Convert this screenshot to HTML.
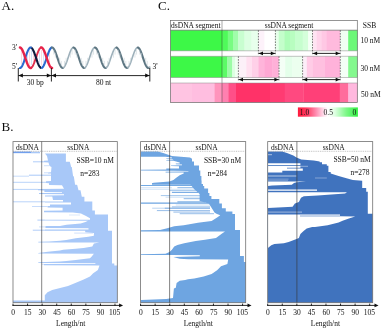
<!DOCTYPE html>
<html><head><meta charset="utf-8"><title>Figure</title>
<style>
html,body{margin:0;padding:0;background:#fff;}
svg{display:block;font-family:"Liberation Serif",serif;}
text{fill:#111;}
</style></head><body>
<svg width="381" height="329" viewBox="0 0 381 329">
<defs><filter id="soft" x="-2%" y="-2%" width="104%" height="104%"><feGaussianBlur stdDeviation="0.45"/></filter></defs>
<rect width="381" height="329" fill="#fff"/>
<g filter="url(#soft)">
<text x="1.60" y="9.90" font-size="13" text-anchor="start" >A.</text>
<text x="1.60" y="130.70" font-size="13" text-anchor="start" >B.</text>
<text x="158.00" y="9.90" font-size="13" text-anchor="start" >C.</text>
<line x1="21.50" y1="51.10" x2="21.50" y2="64.40" stroke="#f8c8d4" stroke-width="0.7"/>
<line x1="23.50" y1="55.17" x2="23.50" y2="60.33" stroke="#c4d6f6" stroke-width="0.7"/>
<line x1="27.50" y1="54.04" x2="27.50" y2="61.46" stroke="#c4d6f6" stroke-width="0.7"/>
<line x1="29.50" y1="50.57" x2="29.50" y2="64.93" stroke="#f8c8d4" stroke-width="0.7"/>
<line x1="31.50" y1="50.31" x2="31.50" y2="65.19" stroke="#c4d6f6" stroke-width="0.7"/>
<line x1="33.50" y1="53.35" x2="33.50" y2="62.15" stroke="#f8c8d4" stroke-width="0.7"/>
<line x1="37.50" y1="55.97" x2="37.50" y2="59.53" stroke="#f8c8d4" stroke-width="0.7"/>
<line x1="39.50" y1="51.54" x2="39.50" y2="63.96" stroke="#c4d6f6" stroke-width="0.7"/>
<line x1="41.50" y1="50.00" x2="41.50" y2="65.50" stroke="#f8c8d4" stroke-width="0.7"/>
<line x1="43.50" y1="51.87" x2="43.50" y2="63.63" stroke="#c4d6f6" stroke-width="0.7"/>
<line x1="45.50" y1="56.52" x2="45.50" y2="58.98" stroke="#f8c8d4" stroke-width="0.7"/>
<line x1="49.50" y1="52.92" x2="49.50" y2="62.58" stroke="#f8c8d4" stroke-width="0.7"/>
<path d="M30.65,68.00 L31.15,67.87 L31.65,67.52 L32.15,66.96 L32.65,66.20 L33.15,65.26 L33.65,64.16 L34.15,62.92 L34.65,61.57 L35.15,60.14 L35.65,58.65 L36.15,57.15 L36.65,55.66 L37.15,54.21 L37.65,52.84 L38.15,51.58 L38.65,50.45 L39.15,49.48 L39.65,48.68 L40.15,48.08 L40.65,47.69 L41.15,47.51" fill="none" stroke="#e0304f" stroke-width="1.9" stroke-linecap="butt"/>
<path d="M30.65,47.50 L31.15,47.61 L31.65,47.94 L32.15,48.48 L32.65,49.22 L33.15,50.14 L33.65,51.23 L34.15,52.45 L34.65,53.79 L35.15,55.22 L35.65,56.70 L36.15,58.20 L36.65,59.69 L37.15,61.15 L37.65,62.52 L38.15,63.80 L38.65,64.94 L39.15,65.94 L39.65,66.75 L40.15,67.37 L40.65,67.78 L41.15,67.98" fill="none" stroke="#101a3c" stroke-width="2.1" stroke-linecap="butt"/>
<path d="M19.90,68.00 L20.40,67.91 L20.90,67.60 L21.40,67.09 L21.90,66.37 L22.40,65.46 L22.90,64.39 L23.40,63.18 L23.90,61.85 L24.40,60.43 L24.90,58.95 L25.40,57.45 L25.90,55.95 L26.40,54.50 L26.90,53.11 L27.40,51.82 L27.90,50.66 L28.40,49.66 L28.90,48.82 L29.40,48.18 L29.90,47.75 L30.40,47.53 L30.90,47.53" fill="none" stroke="#2a6ad0" stroke-width="2.1" stroke-linecap="round"/>
<path d="M19.90,47.50 L20.40,47.61 L20.90,47.94 L21.40,48.48 L21.90,49.22 L22.40,50.14 L22.90,51.23 L23.40,52.45 L23.90,53.79 L24.40,55.22 L24.90,56.70 L25.40,58.20 L25.90,59.69 L26.40,61.15 L26.90,62.52 L27.40,63.80 L27.90,64.94 L28.40,65.94 L28.90,66.75 L29.40,67.37 L29.90,67.78 L30.40,67.98 L30.90,67.96" fill="none" stroke="#e8234a" stroke-width="2.4" stroke-linecap="round"/>
<path d="M41.10,67.97 L41.60,67.97 L42.10,67.75 L42.60,67.32 L43.10,66.68 L43.60,65.84 L44.10,64.84 L44.60,63.68 L45.10,62.39 L45.60,61.00 L46.10,59.55 L46.60,58.05 L47.10,56.55 L47.60,55.07 L48.10,53.65 L48.60,52.32 L49.10,51.11 L49.60,50.04 L50.10,49.13 L50.60,48.41 L51.10,47.90 L51.60,47.59 L52.10,47.50" fill="none" stroke="#2a6ad0" stroke-width="2.1" stroke-linecap="butt"/>
<path d="M41.10,47.52 L41.60,47.54 L42.10,47.78 L42.60,48.24 L43.10,48.90 L43.60,49.75 L44.10,50.77 L44.60,51.95 L45.10,53.24 L45.60,54.64 L46.10,56.10 L46.60,57.60 L47.10,59.10 L47.60,60.57 L48.10,61.98 L48.60,63.30 L49.10,64.50 L49.60,65.56 L50.10,66.45 L50.60,67.15 L51.10,67.64 L51.60,67.93 L52.10,68.00" fill="none" stroke="#e8234a" stroke-width="2.4" stroke-linecap="round"/>
<path d="M51.95,47.50 L52.45,47.57 L52.95,47.86 L53.45,48.35 L53.95,49.05 L54.45,49.94 L54.95,51.00 L55.45,52.20 L55.95,53.52 L56.45,54.93 L56.95,56.40 L57.45,57.90 L57.95,59.40 L58.45,60.86 L58.95,62.26 L59.45,63.55 L59.95,64.73 L60.45,65.75 L60.95,66.60 L61.45,67.26 L61.95,67.72 L62.45,67.96 L62.95,67.98" fill="none" stroke="#5d7682" stroke-width="2.1" stroke-linecap="round"/>
<path d="M62.70,68.00 L63.20,67.91 L63.70,67.60 L64.20,67.09 L64.70,66.37 L65.20,65.46 L65.70,64.39 L66.20,63.18 L66.70,61.85 L67.20,60.43 L67.70,58.95 L68.20,57.45 L68.70,55.95 L69.20,54.50 L69.70,53.11 L70.20,51.82 L70.70,50.66 L71.20,49.66 L71.70,48.82 L72.20,48.18 L72.70,47.75 L73.20,47.53 L73.70,47.53" fill="none" stroke="#9db0ba" stroke-width="1.6" stroke-linecap="butt"/>
<path d="M73.45,47.50 L73.95,47.61 L74.45,47.94 L74.95,48.48 L75.45,49.22 L75.95,50.14 L76.45,51.23 L76.95,52.45 L77.45,53.79 L77.95,55.22 L78.45,56.70 L78.95,58.20 L79.45,59.69 L79.95,61.15 L80.45,62.52 L80.95,63.80 L81.45,64.94 L81.95,65.94 L82.45,66.75 L82.95,67.37 L83.45,67.78 L83.95,67.98 L84.45,67.96" fill="none" stroke="#5d7682" stroke-width="2.1" stroke-linecap="round"/>
<path d="M84.20,68.00 L84.70,67.87 L85.20,67.52 L85.70,66.96 L86.20,66.20 L86.70,65.26 L87.20,64.16 L87.70,62.92 L88.20,61.57 L88.70,60.14 L89.20,58.65 L89.70,57.15 L90.20,55.66 L90.70,54.21 L91.20,52.84 L91.70,51.58 L92.20,50.45 L92.70,49.48 L93.20,48.68 L93.70,48.08 L94.20,47.69 L94.70,47.51 L95.20,47.55" fill="none" stroke="#9db0ba" stroke-width="1.6" stroke-linecap="butt"/>
<path d="M94.95,47.50 L95.45,47.66 L95.95,48.03 L96.45,48.61 L96.95,49.39 L97.45,50.34 L97.95,51.46 L98.45,52.71 L98.95,54.07 L99.45,55.51 L99.95,57.00 L100.45,58.50 L100.95,59.99 L101.45,61.43 L101.95,62.79 L102.45,64.04 L102.95,65.16 L103.45,66.11 L103.95,66.89 L104.45,67.47 L104.95,67.84 L105.45,68.00 L105.95,67.93" fill="none" stroke="#5d7682" stroke-width="2.1" stroke-linecap="round"/>
<path d="M105.70,67.99 L106.20,67.81 L106.70,67.42 L107.20,66.82 L107.70,66.02 L108.20,65.05 L108.70,63.92 L109.20,62.66 L109.70,61.29 L110.20,59.84 L110.70,58.35 L111.20,56.85 L111.70,55.36 L112.20,53.93 L112.70,52.58 L113.20,51.34 L113.70,50.24 L114.20,49.30 L114.70,48.54 L115.20,47.98 L115.70,47.63 L116.20,47.50 L116.70,47.59" fill="none" stroke="#9db0ba" stroke-width="1.6" stroke-linecap="butt"/>
<path d="M116.45,47.52 L116.95,47.72 L117.45,48.13 L117.95,48.75 L118.45,49.56 L118.95,50.56 L119.45,51.70 L119.95,52.98 L120.45,54.35 L120.95,55.81 L121.45,57.30 L121.95,58.80 L122.45,60.28 L122.95,61.71 L123.45,63.05 L123.95,64.27 L124.45,65.36 L124.95,66.28 L125.45,67.02 L125.95,67.56 L126.45,67.89 L126.95,68.00 L127.45,67.89" fill="none" stroke="#5d7682" stroke-width="2.1" stroke-linecap="round"/>
<path d="M127.20,67.97 L127.70,67.75 L128.20,67.32 L128.70,66.68 L129.20,65.84 L129.70,64.84 L130.20,63.68 L130.70,62.39 L131.20,61.00 L131.70,59.55 L132.20,58.05 L132.70,56.55 L133.20,55.07 L133.70,53.65 L134.20,52.32 L134.70,51.11 L135.20,50.04 L135.70,49.13 L136.20,48.41 L136.70,47.90 L137.20,47.59 L137.70,47.50 L138.20,47.63" fill="none" stroke="#9db0ba" stroke-width="1.6" stroke-linecap="butt"/>
<path d="M137.95,47.54 L138.45,47.78 L138.95,48.24 L139.45,48.90 L139.95,49.75 L140.45,50.77 L140.95,51.95 L141.45,53.24 L141.95,54.64 L142.45,56.10 L142.95,57.60 L143.45,59.10 L143.95,60.57 L144.45,61.98 L144.95,63.30 L145.45,64.50 L145.95,65.56 L146.45,66.45 L146.95,67.15 L147.45,67.64 L147.95,67.93 L148.45,68.00 L148.95,67.84" fill="none" stroke="#5d7682" stroke-width="2.1" stroke-linecap="round"/>
<path d="M148.70,67.95 L149.20,67.68 L149.70,67.21 L150.20,66.52" fill="none" stroke="#9db0ba" stroke-width="1.6" stroke-linecap="butt"/>
<line x1="53.75" y1="49.80" x2="53.75" y2="54.60" stroke="#c9d3d9" stroke-width="0.6"/>
<line x1="55.35" y1="52.86" x2="55.35" y2="57.66" stroke="#c9d3d9" stroke-width="0.6"/>
<line x1="59.70" y1="57.84" x2="59.70" y2="62.64" stroke="#c9d3d9" stroke-width="0.6"/>
<line x1="61.30" y1="60.90" x2="61.30" y2="65.70" stroke="#c9d3d9" stroke-width="0.6"/>
<line x1="64.50" y1="60.90" x2="64.50" y2="65.70" stroke="#c9d3d9" stroke-width="0.6"/>
<line x1="66.10" y1="57.84" x2="66.10" y2="62.64" stroke="#c9d3d9" stroke-width="0.6"/>
<line x1="70.45" y1="52.86" x2="70.45" y2="57.66" stroke="#c9d3d9" stroke-width="0.6"/>
<line x1="72.05" y1="49.80" x2="72.05" y2="54.60" stroke="#c9d3d9" stroke-width="0.6"/>
<line x1="75.25" y1="49.80" x2="75.25" y2="54.60" stroke="#c9d3d9" stroke-width="0.6"/>
<line x1="76.85" y1="52.86" x2="76.85" y2="57.66" stroke="#c9d3d9" stroke-width="0.6"/>
<line x1="81.20" y1="57.84" x2="81.20" y2="62.64" stroke="#c9d3d9" stroke-width="0.6"/>
<line x1="82.80" y1="60.90" x2="82.80" y2="65.70" stroke="#c9d3d9" stroke-width="0.6"/>
<line x1="86.00" y1="60.90" x2="86.00" y2="65.70" stroke="#c9d3d9" stroke-width="0.6"/>
<line x1="87.60" y1="57.84" x2="87.60" y2="62.64" stroke="#c9d3d9" stroke-width="0.6"/>
<line x1="91.95" y1="52.86" x2="91.95" y2="57.66" stroke="#c9d3d9" stroke-width="0.6"/>
<line x1="93.55" y1="49.80" x2="93.55" y2="54.60" stroke="#c9d3d9" stroke-width="0.6"/>
<line x1="96.75" y1="49.80" x2="96.75" y2="54.60" stroke="#c9d3d9" stroke-width="0.6"/>
<line x1="98.35" y1="52.86" x2="98.35" y2="57.66" stroke="#c9d3d9" stroke-width="0.6"/>
<line x1="102.70" y1="57.84" x2="102.70" y2="62.64" stroke="#c9d3d9" stroke-width="0.6"/>
<line x1="104.30" y1="60.90" x2="104.30" y2="65.70" stroke="#c9d3d9" stroke-width="0.6"/>
<line x1="107.50" y1="60.90" x2="107.50" y2="65.70" stroke="#c9d3d9" stroke-width="0.6"/>
<line x1="109.10" y1="57.84" x2="109.10" y2="62.64" stroke="#c9d3d9" stroke-width="0.6"/>
<line x1="113.45" y1="52.86" x2="113.45" y2="57.66" stroke="#c9d3d9" stroke-width="0.6"/>
<line x1="115.05" y1="49.80" x2="115.05" y2="54.60" stroke="#c9d3d9" stroke-width="0.6"/>
<line x1="118.25" y1="49.80" x2="118.25" y2="54.60" stroke="#c9d3d9" stroke-width="0.6"/>
<line x1="119.85" y1="52.86" x2="119.85" y2="57.66" stroke="#c9d3d9" stroke-width="0.6"/>
<line x1="124.20" y1="57.84" x2="124.20" y2="62.64" stroke="#c9d3d9" stroke-width="0.6"/>
<line x1="125.80" y1="60.90" x2="125.80" y2="65.70" stroke="#c9d3d9" stroke-width="0.6"/>
<line x1="129.00" y1="60.90" x2="129.00" y2="65.70" stroke="#c9d3d9" stroke-width="0.6"/>
<line x1="130.60" y1="57.84" x2="130.60" y2="62.64" stroke="#c9d3d9" stroke-width="0.6"/>
<line x1="134.95" y1="52.86" x2="134.95" y2="57.66" stroke="#c9d3d9" stroke-width="0.6"/>
<line x1="136.55" y1="49.80" x2="136.55" y2="54.60" stroke="#c9d3d9" stroke-width="0.6"/>
<line x1="139.75" y1="49.80" x2="139.75" y2="54.60" stroke="#c9d3d9" stroke-width="0.6"/>
<line x1="141.35" y1="52.86" x2="141.35" y2="57.66" stroke="#c9d3d9" stroke-width="0.6"/>
<line x1="145.70" y1="57.84" x2="145.70" y2="62.64" stroke="#c9d3d9" stroke-width="0.6"/>
<line x1="147.30" y1="60.90" x2="147.30" y2="65.70" stroke="#c9d3d9" stroke-width="0.6"/>
<text x="11.90" y="49.60" font-size="7.5" text-anchor="start" >3'</text>
<text x="11.90" y="68.90" font-size="7.5" text-anchor="start" >5'</text>
<text x="152.50" y="68.90" font-size="7.5" text-anchor="start" >3'</text>
<g stroke="#111" stroke-width="0.9" fill="#111">
<line x1="18.3" y1="68" x2="18.3" y2="81.5"/>
<line x1="51.4" y1="68" x2="51.4" y2="81.5"/>
<line x1="149.8" y1="68" x2="149.8" y2="81.5"/>
<line x1="18.3" y1="75.6" x2="149.8" y2="75.6"/>
<path d="M18.5,75.6 L22.9,73.6 L22.9,77.6 Z" stroke="none"/>
<path d="M51.2,75.6 L46.800000000000004,73.6 L46.800000000000004,77.6 Z" stroke="none"/>
<path d="M51.6,75.6 L56.0,73.6 L56.0,77.6 Z" stroke="none"/>
<path d="M149.6,75.6 L145.2,73.6 L145.2,77.6 Z" stroke="none"/>
</g>
<text x="35.30" y="85.00" font-size="7.5" text-anchor="middle" >30 bp</text>
<text x="103.60" y="85.00" font-size="7.5" text-anchor="middle" >80 nt</text>
<rect x="170.50" y="30.2" width="51.80" height="20.599999999999998" fill="#3cf846"/>
<rect x="222.00" y="30.2" width="6.10" height="20.599999999999998" fill="#50fa5a"/>
<rect x="227.80" y="30.2" width="5.50" height="20.599999999999998" fill="#78fc82"/>
<rect x="233.00" y="30.2" width="5.50" height="20.599999999999998" fill="#a0fdaa"/>
<rect x="238.20" y="30.2" width="6.60" height="20.599999999999998" fill="#c8fed0"/>
<rect x="244.50" y="30.2" width="7.30" height="20.599999999999998" fill="#dcffe2"/>
<rect x="251.50" y="30.2" width="7.20" height="20.599999999999998" fill="#e8ffec"/>
<rect x="258.40" y="30.2" width="6.40" height="20.599999999999998" fill="#fdf2fa"/>
<rect x="264.50" y="30.2" width="11.00" height="20.599999999999998" fill="#ffffff"/>
<rect x="275.20" y="30.2" width="3.80" height="20.599999999999998" fill="#e8ffec"/>
<rect x="278.70" y="30.2" width="5.90" height="20.599999999999998" fill="#c4fecb"/>
<rect x="284.30" y="30.2" width="6.00" height="20.599999999999998" fill="#aefdb8"/>
<rect x="290.00" y="30.2" width="5.30" height="20.599999999999998" fill="#b8fdc0"/>
<rect x="295.00" y="30.2" width="8.00" height="20.599999999999998" fill="#c6fece"/>
<rect x="302.70" y="30.2" width="5.80" height="20.599999999999998" fill="#d4ffda"/>
<rect x="308.20" y="30.2" width="4.70" height="20.599999999999998" fill="#f4fff6"/>
<rect x="312.60" y="30.2" width="4.40" height="20.599999999999998" fill="#ffe4f2"/>
<rect x="316.70" y="30.2" width="5.30" height="20.599999999999998" fill="#ffd4ea"/>
<rect x="321.70" y="30.2" width="5.30" height="20.599999999999998" fill="#ffc8e4"/>
<rect x="326.70" y="30.2" width="13.80" height="20.599999999999998" fill="#ffbadd"/>
<rect x="340.20" y="30.2" width="8.30" height="20.599999999999998" fill="#f0fff2"/>
<rect x="348.20" y="30.2" width="9.40" height="20.599999999999998" fill="#6cf878"/>
<rect x="170.50" y="56.3" width="51.80" height="21.200000000000003" fill="#3cf846"/>
<rect x="222.00" y="56.3" width="5.50" height="21.200000000000003" fill="#5cfa66"/>
<rect x="227.20" y="56.3" width="5.30" height="21.200000000000003" fill="#9cfca6"/>
<rect x="232.20" y="56.3" width="3.10" height="21.200000000000003" fill="#dcffe2"/>
<rect x="235.00" y="56.3" width="3.70" height="21.200000000000003" fill="#f0fff2"/>
<rect x="238.40" y="56.3" width="8.20" height="21.200000000000003" fill="#fcf0f8"/>
<rect x="246.30" y="56.3" width="6.00" height="21.200000000000003" fill="#ffe0f0"/>
<rect x="252.00" y="56.3" width="6.70" height="21.200000000000003" fill="#ffd0e8"/>
<rect x="258.40" y="56.3" width="6.60" height="21.200000000000003" fill="#ffb4da"/>
<rect x="264.70" y="56.3" width="8.10" height="21.200000000000003" fill="#ffa8d4"/>
<rect x="272.50" y="56.3" width="6.60" height="21.200000000000003" fill="#ffb0d8"/>
<rect x="278.80" y="56.3" width="6.70" height="21.200000000000003" fill="#f4fff6"/>
<rect x="285.20" y="56.3" width="7.40" height="21.200000000000003" fill="#e4ffea"/>
<rect x="292.30" y="56.3" width="10.60" height="21.200000000000003" fill="#ecffef"/>
<rect x="302.60" y="56.3" width="4.50" height="21.200000000000003" fill="#fceef8"/>
<rect x="306.80" y="56.3" width="6.00" height="21.200000000000003" fill="#ffcce6"/>
<rect x="312.50" y="56.3" width="12.80" height="21.200000000000003" fill="#ffc0e0"/>
<rect x="325.00" y="56.3" width="15.50" height="21.200000000000003" fill="#ffb2da"/>
<rect x="340.20" y="56.3" width="8.30" height="21.200000000000003" fill="#f4fff6"/>
<rect x="348.20" y="56.3" width="9.40" height="21.200000000000003" fill="#84f88e"/>
<rect x="170.50" y="83" width="21.80" height="19.400000000000006" fill="#ffc4e2"/>
<rect x="192.00" y="83" width="22.80" height="19.400000000000006" fill="#ffbee0"/>
<rect x="214.50" y="83" width="7.80" height="19.400000000000006" fill="#ff94bc"/>
<rect x="222.00" y="83" width="6.60" height="19.400000000000006" fill="#ff80b0"/>
<rect x="228.30" y="83" width="8.00" height="19.400000000000006" fill="#ff5088"/>
<rect x="236.00" y="83" width="34.30" height="19.400000000000006" fill="#ff3068"/>
<rect x="270.00" y="83" width="15.00" height="19.400000000000006" fill="#ff3a72"/>
<rect x="284.70" y="83" width="19.10" height="19.400000000000006" fill="#ff4a80"/>
<rect x="303.50" y="83" width="36.60" height="19.400000000000006" fill="#ff4078"/>
<rect x="339.80" y="83" width="8.80" height="19.400000000000006" fill="#ff6c9c"/>
<rect x="348.30" y="83" width="9.30" height="19.400000000000006" fill="#ffb8de"/>
<g stroke="#6a6a6a" stroke-width="0.7" fill="none">
<rect x="170.5" y="20.5" width="186.8" height="81.9"/>
<line x1="170.5" y1="30.2" x2="357.3" y2="30.2"/>
<line x1="222" y1="20.5" x2="222" y2="102.4" stroke="#333" stroke-width="0.55" stroke-opacity="0.8"/>
<line x1="170.5" y1="50.8" x2="357.3" y2="50.8" stroke="#888" stroke-width="0.5"/>
<line x1="170.5" y1="56.3" x2="357.3" y2="56.3" stroke="#888" stroke-width="0.5"/>
<line x1="170.5" y1="77.5" x2="357.3" y2="77.5" stroke="#888" stroke-width="0.5"/>
<line x1="170.5" y1="83" x2="357.3" y2="83" stroke="#888" stroke-width="0.5"/>
</g>
<g stroke="#444" stroke-width="0.7" stroke-dasharray="1.6,1.2">
<line x1="258.4" y1="30.2" x2="258.4" y2="55"/>
<line x1="275.4" y1="30.2" x2="275.4" y2="55"/>
<line x1="312.5" y1="30.2" x2="312.5" y2="55"/>
<line x1="340.3" y1="30.2" x2="340.3" y2="55"/>
<line x1="238.4" y1="56.3" x2="238.4" y2="81.5"/>
<line x1="279" y1="56.3" x2="279" y2="81.5"/>
<line x1="302.6" y1="56.3" x2="302.6" y2="81.5"/>
<line x1="340.3" y1="56.3" x2="340.3" y2="81.5"/>
</g>
<g stroke="#111" stroke-width="0.9" fill="#111">
<line x1="258.6" y1="53.4" x2="275.2" y2="53.4"/>
<path d="M258.8,53.4 L263.0,51.5 L263.0,55.3 Z" stroke="none"/>
<path d="M275.0,53.4 L270.8,51.5 L270.8,55.3 Z" stroke="none"/>
<line x1="312.7" y1="53.4" x2="340.1" y2="53.4"/>
<path d="M312.9,53.4 L317.09999999999997,51.5 L317.09999999999997,55.3 Z" stroke="none"/>
<path d="M339.90000000000003,53.4 L335.70000000000005,51.5 L335.70000000000005,55.3 Z" stroke="none"/>
<line x1="238.6" y1="79.6" x2="278.8" y2="79.6"/>
<path d="M238.79999999999998,79.6 L242.99999999999997,77.69999999999999 L242.99999999999997,81.5 Z" stroke="none"/>
<path d="M278.6,79.6 L274.40000000000003,77.69999999999999 L274.40000000000003,81.5 Z" stroke="none"/>
<line x1="302.8" y1="79.6" x2="340.1" y2="79.6"/>
<path d="M303.0,79.6 L307.2,77.69999999999999 L307.2,81.5 Z" stroke="none"/>
<path d="M339.90000000000003,79.6 L335.70000000000005,77.69999999999999 L335.70000000000005,81.5 Z" stroke="none"/>
</g>
<text x="195.80" y="28.00" font-size="7.5" text-anchor="middle" >dsDNA segment</text>
<text x="289.00" y="28.00" font-size="7.5" text-anchor="middle" >ssDNA segment</text>
<text x="362.80" y="28.30" font-size="7.5" text-anchor="start" >SSB</text>
<text x="360.40" y="43.00" font-size="7.5" text-anchor="start" >10 nM</text>
<text x="360.40" y="71.20" font-size="7.5" text-anchor="start" >30 nM</text>
<text x="360.90" y="97.20" font-size="7.5" text-anchor="start" >50 nM</text>
<defs><linearGradient id="leg" x1="0" x2="1"><stop offset="0" stop-color="#ff1a3c"/><stop offset="0.15" stop-color="#ff3a60"/><stop offset="0.3" stop-color="#ff8cb0"/><stop offset="0.42" stop-color="#ffd8e8"/><stop offset="0.5" stop-color="#ffffff"/><stop offset="0.62" stop-color="#dcffe0"/><stop offset="0.8" stop-color="#80f88a"/><stop offset="1" stop-color="#30f040"/></linearGradient></defs>
<rect x="297.9" y="107.4" width="60" height="9.3" fill="url(#leg)"/>
<text x="299.80" y="115.40" font-size="7.5" text-anchor="start" >1.0</text>
<text x="328.30" y="115.40" font-size="7.5" text-anchor="middle" >0.5</text>
<text x="352.60" y="115.40" font-size="7.5" text-anchor="start" >0</text>
<polygon points="40.0,153.5 40.0,151.8 13.0,151.8 13.0,153.0 40.0,153.0 40.0,153.5 45.0,153.6 47.0,156.0 48.0,160.6 44.0,160.8 44.0,162.3 48.5,162.5 49.5,166.0 51.5,167.0 51.0,172.3 48.0,172.5 48.0,173.5 51.0,173.6 51.0,181.0 46.0,181.3 46.0,183.0 49.0,183.2 49.0,185.0 62.0,185.2 64.0,188.8 38.0,189.0 38.0,190.2 44.4,190.4 44.4,192.0 62.0,192.2 62.0,193.0 39.0,193.1 39.0,194.0 64.0,194.2 64.0,195.3 45.0,195.4 45.0,196.5 52.3,196.6 53.0,200.0 63.0,200.1 63.0,201.5 45.0,201.6 45.0,202.5 71.0,202.6 71.0,204.5 50.0,204.6 50.0,206.0 47.6,206.1 47.6,207.5 62.6,207.7 62.6,210.6 44.0,210.8 44.0,212.2 72.8,212.4 81.0,213.4 86.0,216.0 90.0,218.3 90.0,219.7 45.0,219.8 45.0,220.5 88.0,220.7 85.4,221.9 80.7,223.5 66.5,224.8 60.0,225.9 45.4,226.1 45.4,228.1 88.5,228.2 88.5,229.6 45.0,229.6 45.0,230.7 85.2,230.8 85.2,232.3 93.9,233.0 93.9,235.8 88.3,236.7 75.7,238.3 66.3,239.9 60.0,240.8 49.0,241.4 38.3,241.8 38.3,242.4 99.4,242.5 93.9,243.6 92.3,246.5 83.6,248.0 75.7,248.8 63.1,249.8 60.0,250.4 47.8,251.8 38.3,253.0 38.3,253.6 93.9,253.8 91.5,256.7 89.9,258.3 75.7,259.9 66.3,261.0 60.0,261.6 38.3,262.3 38.3,263.0 95.4,263.1 95.4,263.8 44.0,263.9 44.0,265.3 99.5,265.4 97.9,270.1 93.2,273.3 90.0,276.4 83.7,279.6 75.9,282.7 68.0,285.9 60.1,288.1 52.2,290.0 47.5,292.2 44.8,295.3 44.8,300.4 13.0,300.4 13.0,302.7 117.3,302.7 117.3,265.4 114.3,265.4 114.3,263.5 112.0,263.5 112.0,230.7 108.0,230.7 108.0,214.5 94.9,214.5 94.9,210.6 92.3,210.6 92.3,201.4 84.4,201.4 84.4,196.8 81.8,196.8 80.5,190.2 78.5,190.2 77.2,185.0 76.4,184.8 75.1,184.8 73.8,176.2 73.1,176.2 71.8,167.0 71.2,167.0 69.8,161.8 65.9,161.8 65.9,153.5" fill="#a8c8f8"/>
<line x1="13" y1="152.4" x2="31" y2="152.4" stroke="#6f9fee" stroke-width="1.5" stroke-opacity="1"/>
<line x1="31" y1="152.9" x2="40" y2="152.9" stroke="#a8c8f8" stroke-width="0.8" stroke-opacity="0.9"/>
<line x1="33" y1="161.8" x2="44" y2="161.8" stroke="#a8c8f8" stroke-width="1.0" stroke-opacity="0.9"/>
<line x1="44" y1="165.7" x2="49" y2="165.7" stroke="#a8c8f8" stroke-width="0.8" stroke-opacity="0.7"/>
<line x1="44" y1="172.8" x2="48" y2="172.8" stroke="#a8c8f8" stroke-width="0.8" stroke-opacity="0.8"/>
<line x1="29" y1="175.2" x2="51" y2="175.2" stroke="#a8c8f8" stroke-width="1.0" stroke-opacity="1"/>
<line x1="13" y1="176.2" x2="29" y2="176.2" stroke="#a8c8f8" stroke-width="0.9" stroke-opacity="0.7"/>
<line x1="13" y1="182.3" x2="46" y2="182.3" stroke="#a8c8f8" stroke-width="1.0" stroke-opacity="0.8"/>
<line x1="13" y1="189.4" x2="38" y2="189.4" stroke="#a8c8f8" stroke-width="1.0" stroke-opacity="0.8"/>
<line x1="13" y1="201.8" x2="45" y2="201.8" stroke="#a8c8f8" stroke-width="1.0" stroke-opacity="0.8"/>
<line x1="32" y1="206.5" x2="47.6" y2="206.5" stroke="#a8c8f8" stroke-width="0.9" stroke-opacity="0.7"/>
<line x1="37.4" y1="220.1" x2="45" y2="220.1" stroke="#a8c8f8" stroke-width="1.0" stroke-opacity="0.9"/>
<line x1="39" y1="226.9" x2="45" y2="226.9" stroke="#a8c8f8" stroke-width="0.9" stroke-opacity="0.6"/>
<line x1="32.8" y1="230.2" x2="45" y2="230.2" stroke="#a8c8f8" stroke-width="1.0" stroke-opacity="0.9"/>
<line x1="69" y1="215" x2="80" y2="215" stroke="#a8c8f8" stroke-width="0.8" stroke-opacity="0.5"/>
<line x1="74.2" y1="233.1" x2="93" y2="233.1" stroke="#a8c8f8" stroke-width="1.2" stroke-opacity="0.45"/>
<line x1="41.8" y1="264.4" x2="44" y2="264.4" stroke="#a8c8f8" stroke-width="0.8" stroke-opacity="0.6"/>
<g stroke="#707070" stroke-width="0.8" fill="none">
<rect x="13.0" y="141.6" width="104.3" height="161.1"/>
<line x1="13.0" y1="151.3" x2="117.3" y2="151.3" stroke="#999" stroke-width="0.6" stroke-dasharray="1,0.8"/>
<line x1="41.7" y1="141.6" x2="41.7" y2="302.7" stroke="#333" stroke-width="0.6"/>
</g>
<g stroke="#111" stroke-width="0.9" fill="#111">
<line x1="12.5" y1="305.4" x2="120.3" y2="305.4"/>
<path d="M123.1,305.4 L119.1,303.59999999999997 L119.1,307.2 Z" stroke="none"/>
<line x1="13.00" y1="303.59999999999997" x2="13.00" y2="305.79999999999995"/>
<line x1="27.57" y1="303.59999999999997" x2="27.57" y2="305.79999999999995"/>
<line x1="42.14" y1="303.59999999999997" x2="42.14" y2="305.79999999999995"/>
<line x1="56.71" y1="303.59999999999997" x2="56.71" y2="305.79999999999995"/>
<line x1="71.28" y1="303.59999999999997" x2="71.28" y2="305.79999999999995"/>
<line x1="85.85" y1="303.59999999999997" x2="85.85" y2="305.79999999999995"/>
<line x1="100.42" y1="303.59999999999997" x2="100.42" y2="305.79999999999995"/>
<line x1="114.99" y1="303.59999999999997" x2="114.99" y2="305.79999999999995"/>
</g>
<text x="13.20" y="314.80" font-size="7.5" text-anchor="middle" >0</text>
<text x="27.77" y="314.80" font-size="7.5" text-anchor="middle" >15</text>
<text x="42.34" y="314.80" font-size="7.5" text-anchor="middle" >30</text>
<text x="56.91" y="314.80" font-size="7.5" text-anchor="middle" >45</text>
<text x="71.48" y="314.80" font-size="7.5" text-anchor="middle" >60</text>
<text x="86.05" y="314.80" font-size="7.5" text-anchor="middle" >75</text>
<text x="100.62" y="314.80" font-size="7.5" text-anchor="middle" >90</text>
<text x="114.69" y="314.80" font-size="7.5" text-anchor="middle" >105</text>
<text x="70.70" y="325.70" font-size="7.5" text-anchor="middle" >Length/nt</text>
<text x="27.45" y="149.60" font-size="7.5" text-anchor="middle" >dsDNA</text>
<text x="78.40" y="149.60" font-size="7.5" text-anchor="middle" >ssDNA</text>
<text x="76.50" y="162.60" font-size="7.5" text-anchor="start" >SSB=10 nM</text>
<text x="80.20" y="176.00" font-size="7.5" text-anchor="start" >n=283</text>
<polygon points="141.0,151.6 141.0,156.8 165.6,156.8 171.9,157.5 171.9,158.3 166.3,158.4 166.3,159.0 172.5,159.2 173.4,159.8 166.3,160.0 166.3,160.6 173.4,160.8 179.7,162.6 179.7,163.5 175.8,163.6 175.8,164.3 182.0,164.5 182.0,165.3 171.0,165.4 171.0,166.1 179.0,166.3 179.0,168.4 166.3,168.5 166.3,169.4 172.0,169.6 141.0,169.8 141.0,170.6 173.4,170.8 188.4,171.0 188.4,171.6 165.6,171.7 165.6,172.4 183.7,172.6 183.7,173.6 179.7,175.2 176.6,177.6 173.4,180.0 169.5,181.5 153.7,182.8 152.0,183.2 152.0,184.4 190.4,184.6 194.3,189.3 199.6,194.0 199.6,201.0 208.8,203.6 214.7,212.8 217.0,214.0 220.3,215.3 217.1,217.4 211.6,221.0 203.7,222.0 198.0,222.7 188.0,224.6 183.7,225.2 174.2,226.3 166.3,228.4 160.0,230.0 141.0,230.2 141.0,231.4 225.0,231.4 221.7,233.7 216.0,238.0 205.0,239.8 195.7,241.0 184.2,243.2 177.4,245.0 174.2,246.5 171.9,249.7 169.5,252.0 165.6,253.7 141.0,254.2 141.0,254.9 172.0,255.1 199.8,255.3 199.8,256.2 173.4,257.0 179.7,258.8 188.4,259.3 228.2,259.5 227.4,263.9 221.0,266.3 217.1,270.2 211.6,274.1 203.7,276.5 194.3,278.4 188.0,279.3 185.2,279.9 179.7,280.7 176.6,283.0 175.8,287.7 173.9,288.5 173.0,298.0 166.3,299.1 141.0,300.0 141.0,302.7 245.7,302.7 245.7,262.0 243.9,262.0 243.9,256.0 240.0,256.0 240.0,230.0 235.0,230.0 235.0,214.1 232.4,214.1 232.4,211.5 225.8,211.5 225.8,208.2 221.9,208.2 221.9,203.6 219.3,203.6 219.3,199.0 211.4,199.0 211.4,196.0 209.4,196.0 209.4,193.1 208.1,193.1 208.1,188.5 204.2,188.5 204.2,186.0 203.0,186.0 203.0,184.0 201.6,184.0 201.6,180.5 201.4,180.5 201.4,176.0 200.3,176.0 200.3,170.5 199.0,170.5 199.0,165.5 194.0,165.5 194.0,161.5 192.0,161.5 192.0,158.7 190.0,157.5 171.9,156.0 163.2,153.0 157.7,151.6" fill="#6ea5e1"/>
<line x1="152" y1="183.8" x2="191" y2="183.8" stroke="#6ea5e1" stroke-width="1.3" stroke-opacity="1"/>
<line x1="141" y1="185.5" x2="192" y2="185.5" stroke="#6ea5e1" stroke-width="1.0" stroke-opacity="0.95"/>
<line x1="141" y1="187.7" x2="172" y2="187.7" stroke="#6ea5e1" stroke-width="0.6" stroke-opacity="0.5"/>
<line x1="177.4" y1="187.7" x2="194" y2="187.7" stroke="#6ea5e1" stroke-width="0.9" stroke-opacity="0.9"/>
<line x1="141" y1="189.3" x2="195" y2="189.3" stroke="#6ea5e1" stroke-width="0.6" stroke-opacity="0.5"/>
<line x1="169.5" y1="190.6" x2="196" y2="190.6" stroke="#6ea5e1" stroke-width="0.8" stroke-opacity="0.8"/>
<line x1="171.9" y1="192.4" x2="198" y2="192.4" stroke="#6ea5e1" stroke-width="1.2" stroke-opacity="0.9"/>
<line x1="160.8" y1="195.6" x2="200" y2="195.6" stroke="#6ea5e1" stroke-width="0.8" stroke-opacity="0.8"/>
<line x1="165.6" y1="197.2" x2="200" y2="197.2" stroke="#6ea5e1" stroke-width="0.7" stroke-opacity="0.5"/>
<line x1="183.7" y1="198.7" x2="200" y2="198.7" stroke="#6ea5e1" stroke-width="0.9" stroke-opacity="0.9"/>
<line x1="177.4" y1="201.9" x2="205" y2="201.9" stroke="#6ea5e1" stroke-width="1.2" stroke-opacity="0.9"/>
<line x1="141" y1="203.2" x2="209" y2="203.2" stroke="#6ea5e1" stroke-width="1.3" stroke-opacity="1"/>
<line x1="175.8" y1="205" x2="210" y2="205" stroke="#6ea5e1" stroke-width="0.7" stroke-opacity="0.5"/>
<line x1="171.9" y1="206.9" x2="210" y2="206.9" stroke="#6ea5e1" stroke-width="0.9" stroke-opacity="0.8"/>
<line x1="152.2" y1="208.2" x2="210" y2="208.2" stroke="#6ea5e1" stroke-width="0.8" stroke-opacity="0.6"/>
<line x1="164.8" y1="208.2" x2="210" y2="208.2" stroke="#6ea5e1" stroke-width="0.9" stroke-opacity="0.9"/>
<line x1="156.9" y1="210.6" x2="210" y2="210.6" stroke="#6ea5e1" stroke-width="0.9" stroke-opacity="0.8"/>
<line x1="173.4" y1="212.1" x2="210" y2="212.1" stroke="#6ea5e1" stroke-width="0.9" stroke-opacity="0.8"/>
<line x1="179.7" y1="213.7" x2="214" y2="213.7" stroke="#6ea5e1" stroke-width="0.9" stroke-opacity="0.8"/>
<g stroke="#707070" stroke-width="0.8" fill="none">
<rect x="140.6" y="141.6" width="105.1" height="161.1"/>
<line x1="140.6" y1="151.3" x2="245.7" y2="151.3" stroke="#999" stroke-width="0.6" stroke-dasharray="1,0.8"/>
<line x1="169.6" y1="141.6" x2="169.6" y2="302.7" stroke="#333" stroke-width="0.6"/>
</g>
<g stroke="#111" stroke-width="0.9" fill="#111">
<line x1="140.1" y1="305.4" x2="248.7" y2="305.4"/>
<path d="M251.5,305.4 L247.5,303.59999999999997 L247.5,307.2 Z" stroke="none"/>
<line x1="140.60" y1="303.59999999999997" x2="140.60" y2="305.79999999999995"/>
<line x1="155.17" y1="303.59999999999997" x2="155.17" y2="305.79999999999995"/>
<line x1="169.74" y1="303.59999999999997" x2="169.74" y2="305.79999999999995"/>
<line x1="184.31" y1="303.59999999999997" x2="184.31" y2="305.79999999999995"/>
<line x1="198.88" y1="303.59999999999997" x2="198.88" y2="305.79999999999995"/>
<line x1="213.45" y1="303.59999999999997" x2="213.45" y2="305.79999999999995"/>
<line x1="228.02" y1="303.59999999999997" x2="228.02" y2="305.79999999999995"/>
<line x1="242.59" y1="303.59999999999997" x2="242.59" y2="305.79999999999995"/>
</g>
<text x="140.80" y="314.80" font-size="7.5" text-anchor="middle" >0</text>
<text x="155.37" y="314.80" font-size="7.5" text-anchor="middle" >15</text>
<text x="169.94" y="314.80" font-size="7.5" text-anchor="middle" >30</text>
<text x="184.51" y="314.80" font-size="7.5" text-anchor="middle" >45</text>
<text x="199.08" y="314.80" font-size="7.5" text-anchor="middle" >60</text>
<text x="213.65" y="314.80" font-size="7.5" text-anchor="middle" >75</text>
<text x="228.22" y="314.80" font-size="7.5" text-anchor="middle" >90</text>
<text x="242.29" y="314.80" font-size="7.5" text-anchor="middle" >105</text>
<text x="198.30" y="325.70" font-size="7.5" text-anchor="middle" >Length/nt</text>
<text x="155.20" y="149.60" font-size="7.5" text-anchor="middle" >dsDNA</text>
<text x="206.55" y="149.60" font-size="7.5" text-anchor="middle" >ssDNA</text>
<text x="203.90" y="162.60" font-size="7.5" text-anchor="start" >SSB=30 nM</text>
<text x="207.70" y="176.00" font-size="7.5" text-anchor="start" >n=284</text>
<polygon points="267.7,151.6 267.7,302.7 372.7,302.7 372.7,213.7 367.8,213.7 367.8,191.8 366.2,191.8 366.2,187.9 362.2,187.9 362.2,180.7 352.8,180.0 346.5,178.3 338.6,176.0 330.7,173.6 330.7,172.0 328.4,172.0 328.4,165.7 326.8,165.7 326.8,164.2 322.0,164.2 322.0,162.3 319.7,162.3 319.7,161.5 313.8,160.5 301.2,159.5 296.5,157.5 293.3,155.5 287.0,153.0 282.3,151.6" fill="#4173be"/>
<polygon points="268.0,163.2 300.4,163.2 300.4,165.2 268.0,165.2" fill="#fff"/>
<polygon points="268.0,165.9 300.4,165.9 300.4,167.7 287.0,167.7 287.0,168.5 302.8,168.5 302.8,170.8 282.3,170.8 282.3,172.6 268.0,172.6" fill="#fff"/>
<polygon points="268.0,181.6 306.0,181.6 296.5,182.2 294.0,183.1 291.8,184.7 272.0,185.5 268.0,186.0" fill="#fff"/>
<polygon points="268.0,189.5 317.0,189.5 317.0,190.8 268.0,190.8" fill="#fff"/>
<polygon points="268.0,192.2 347.0,192.2 345.0,193.5 317.6,195.5 303.8,196.2 301.0,197.7 300.4,199.0 298.9,202.0 294.9,203.6 292.6,206.8 268.0,207.9" fill="#fff"/>
<polygon points="268.0,214.5 340.0,214.5 340.0,216.3 355.2,216.4 348.9,218.4 342.6,220.7 338.6,222.6 327.6,225.2 315.0,227.0 312.2,227.0 306.7,228.6 303.6,231.0 300.4,234.1 298.9,238.1 296.5,239.0 292.6,240.5 288.6,242.1 283.9,243.2 274.4,244.1 271.3,245.2 268.5,247.6 268.0,248.0" fill="#fff"/>
<line x1="300" y1="216" x2="340" y2="216" stroke="#4173be" stroke-width="0.7" stroke-opacity="0.9"/>
<line x1="268" y1="165.55" x2="300" y2="165.55" stroke="#4173be" stroke-width="0.5" stroke-opacity="0.5"/>
<line x1="268" y1="176" x2="296.5" y2="176" stroke="#fff" stroke-width="0.7" stroke-opacity="0.9"/>
<line x1="268" y1="179.1" x2="288.6" y2="179.1" stroke="#fff" stroke-width="0.5" stroke-opacity="0.6"/>
<line x1="268" y1="180.4" x2="288" y2="180.4" stroke="#fff" stroke-width="0.5" stroke-opacity="0.5"/>
<line x1="268" y1="212.2" x2="302" y2="212.2" stroke="#fff" stroke-width="1.3" stroke-opacity="0.4"/>
<line x1="300" y1="166.3" x2="308" y2="166.3" stroke="#fff" stroke-width="0.6" stroke-opacity="0.7"/>
<line x1="315" y1="178" x2="326.8" y2="178" stroke="#fff" stroke-width="0.6" stroke-opacity="0.6"/>
<line x1="268" y1="154.7" x2="272" y2="154.7" stroke="#fff" stroke-width="0.7" stroke-opacity="0.8"/>
<g stroke="#707070" stroke-width="0.8" fill="none">
<rect x="267.7" y="141.6" width="105.0" height="161.1"/>
<line x1="267.7" y1="151.3" x2="372.7" y2="151.3" stroke="#999" stroke-width="0.6" stroke-dasharray="1,0.8"/>
<line x1="296.9" y1="141.6" x2="296.9" y2="302.7" stroke="#333" stroke-width="0.6"/>
</g>
<g stroke="#111" stroke-width="0.9" fill="#111">
<line x1="267.2" y1="305.4" x2="375.7" y2="305.4"/>
<path d="M378.5,305.4 L374.5,303.59999999999997 L374.5,307.2 Z" stroke="none"/>
<line x1="267.70" y1="303.59999999999997" x2="267.70" y2="305.79999999999995"/>
<line x1="282.27" y1="303.59999999999997" x2="282.27" y2="305.79999999999995"/>
<line x1="296.84" y1="303.59999999999997" x2="296.84" y2="305.79999999999995"/>
<line x1="311.41" y1="303.59999999999997" x2="311.41" y2="305.79999999999995"/>
<line x1="325.98" y1="303.59999999999997" x2="325.98" y2="305.79999999999995"/>
<line x1="340.55" y1="303.59999999999997" x2="340.55" y2="305.79999999999995"/>
<line x1="355.12" y1="303.59999999999997" x2="355.12" y2="305.79999999999995"/>
<line x1="369.69" y1="303.59999999999997" x2="369.69" y2="305.79999999999995"/>
</g>
<text x="267.90" y="314.80" font-size="7.5" text-anchor="middle" >0</text>
<text x="282.47" y="314.80" font-size="7.5" text-anchor="middle" >15</text>
<text x="297.04" y="314.80" font-size="7.5" text-anchor="middle" >30</text>
<text x="311.61" y="314.80" font-size="7.5" text-anchor="middle" >45</text>
<text x="326.18" y="314.80" font-size="7.5" text-anchor="middle" >60</text>
<text x="340.75" y="314.80" font-size="7.5" text-anchor="middle" >75</text>
<text x="355.32" y="314.80" font-size="7.5" text-anchor="middle" >90</text>
<text x="369.39" y="314.80" font-size="7.5" text-anchor="middle" >105</text>
<text x="325.40" y="325.70" font-size="7.5" text-anchor="middle" >Length/nt</text>
<text x="282.40" y="149.60" font-size="7.5" text-anchor="middle" >dsDNA</text>
<text x="333.70" y="149.60" font-size="7.5" text-anchor="middle" >ssDNA</text>
<text x="333.40" y="161.80" font-size="7.5" text-anchor="start" >SSB=50 nM</text>
<text x="350.40" y="175.20" font-size="7.5" text-anchor="start" >n=278</text>
</g>
</svg>
</body></html>
